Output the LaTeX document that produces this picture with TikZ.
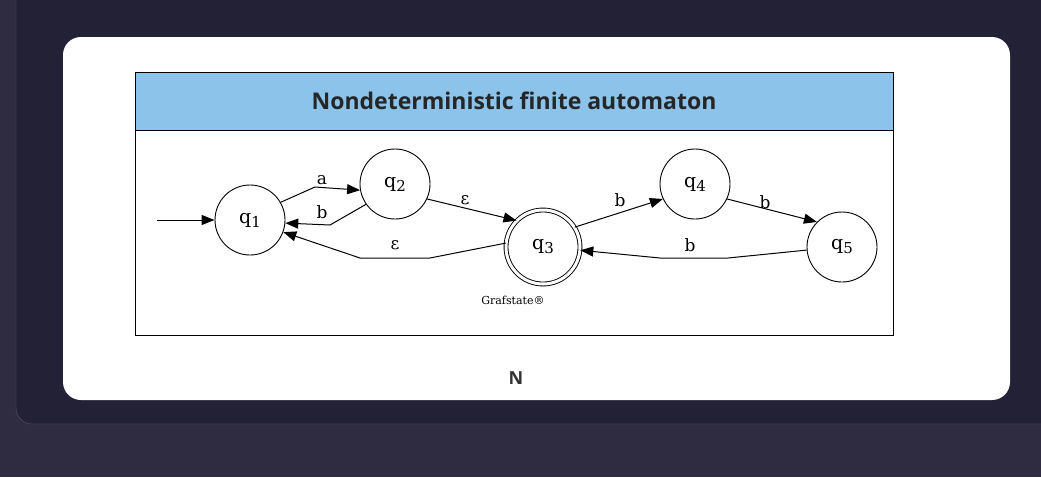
\documentclass[tikz,border=0pt]{standalone}
\usepackage{fontspec}
\setmainfont{DejaVu Serif}
\newfontfamily\titlefont{Open Sans}
\usetikzlibrary{arrows.meta}
\definecolor{bgtop}{HTML}{232136}
\definecolor{bgbot}{HTML}{2F2C42}
\definecolor{hdr}{HTML}{8BC3EB}
\newcommand{\qs}[1]{q\raisebox{-4pt}{\fontsize{15}{15}\selectfont #1}}
\tikzset{
 st/.style={circle,draw,line width=0.9pt,minimum size=70pt,inner sep=0pt,font=\fontsize{19}{19}\selectfont},
 acc/.style={circle,draw,line width=0.9pt,minimum size=74pt,inner sep=0pt,double,double distance=3pt,font=\fontsize{19}{19}\selectfont},
 tr/.style={line width=1pt,-{Triangle[length=13pt,width=10pt]}},
 lb/.style={font=\fontsize{17}{17}\selectfont}
}
\begin{document}
\begin{tikzpicture}[x=1pt,y=-1pt]
\useasboundingbox (0,0) rectangle (1041,477);
\fill[bgbot] (0,0) rectangle (1041,477);
\draw[gray!60!bgtop,fill=bgtop,rounded corners=16pt] (16,-30) rectangle (1060,424);
\fill[white,rounded corners=18pt] (63,37) rectangle (1010,400);
\node[draw,fill=hdr,line width=0.6pt,minimum width=758pt,minimum height=58pt,anchor=north west,inner sep=0pt] (hdrbox) at (135,72) {};
\node[font=\titlefont\bfseries\fontsize{23}{23}\selectfont,text=black!85] (title) at (514,101) {Nondeterministic finite automaton};
\draw[line width=0.6pt] (135,130) rectangle (893,335);
\node[font=\titlefont\bfseries\fontsize{18}{18}\selectfont,text=black!80] (cap) at (516,378) {N};
\node[st] (q1) at (250,220) {\qs1};
\node[st] (q2) at (395,184) {\qs2};
\node[acc] (q3) at (543,247) {\qs3};
\node[st] (q4) at (695,184) {\qs4};
\node[st] (q5) at (842,247) {\qs5};
\coordinate (init) at (157,220);
\node[font=\fontsize{11}{11}\selectfont] (gs) at (513,300) {Grafstate®};
\draw[tr] (init) -- (q1);
\draw[tr] (q1.30) -- (315,187) -- (q2.190);
\draw[tr] (q2.215) -- (330,225) -- (q1.-5);
\draw[tr] (q2.-25) -- (q3.135);
\draw[tr] (q3.174) -- (430,258) -- (360,258) -- (q1.-20);
\draw[tr] (q3.32) -- (q4.205);
\draw[tr] (q4.-25) -- (q5.135);
\draw[tr] (q5.185) -- (728,258) -- (660,258) -- (q3.-5);
\node[lb] (la) at (322,180) {a};
\node[lb] (lb1) at (322,212) {b};
\node[lb] (le1) at (465,200) {ε};
\node[lb] (le2) at (395,245) {ε};
\node[lb] (lb2) at (620,200) {b};
\node[lb] (lb3) at (765,202) {b};
\node[lb] (lb4) at (690,245) {b};
\end{tikzpicture}
\end{document}
